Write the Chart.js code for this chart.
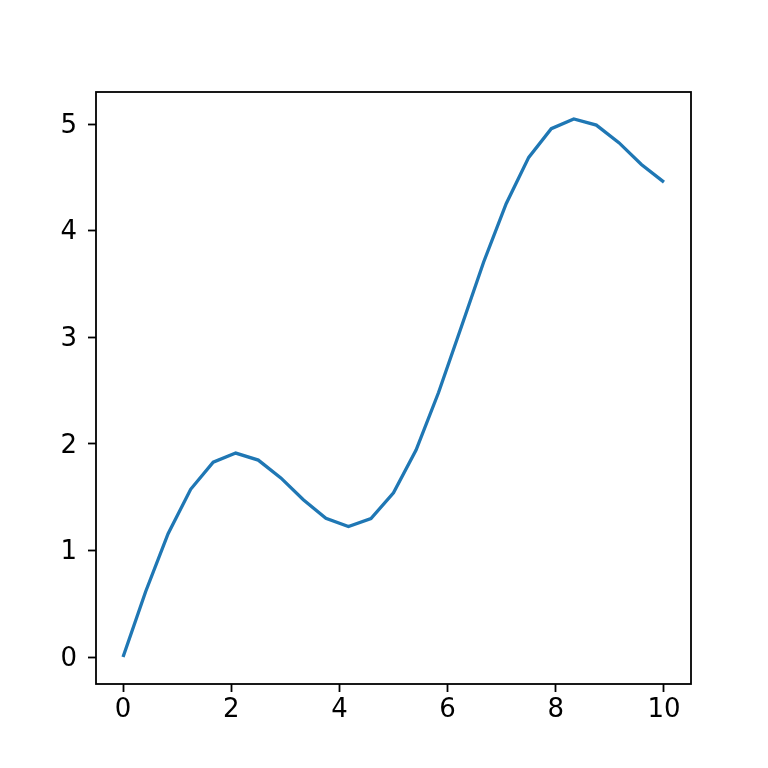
<!DOCTYPE html>
<html>
<head>
<meta charset="utf-8">
<script src="https://cdn.jsdelivr.net/npm/chart.js@4"></script>
<style>
html,body{margin:0;padding:0;background:#fff;}
#wrap{width:768px;height:768px;}
</style>
</head>
<body>
<div id="wrap"><canvas id="c" width="768" height="768"></canvas></div>
<script>
const xValues = [0, 0.417, 0.833, 1.25, 1.667, 2.083, 2.5, 2.917, 3.333, 3.75, 4.167, 4.583, 5,
  5.417, 5.833, 6.25, 6.667, 7.083, 7.5, 7.917, 8.333, 8.75, 9.167, 9.583, 10];
const yValues = [0, 0.613, 1.157, 1.574, 1.828, 1.914, 1.848, 1.681, 1.477, 1.303, 1.225, 1.300, 1.541,
  1.943, 2.482, 3.092, 3.707, 4.254, 4.688, 4.957, 5.049, 4.991, 4.826, 4.622, 4.456];
const xTicks = [0, 2, 4, 6, 8, 10];
const yTicks = [0, 1, 2, 3, 4, 5];

const points = xValues.map((x, i) => ({x: x, y: yValues[i]}));

const frame = {
  id: 'frame',
  afterDraw(chart) {
    const a = chart.chartArea, ctx = chart.ctx;
    ctx.save();
    ctx.strokeStyle = '#000';
    ctx.lineWidth = 1.8;
    ctx.strokeRect(a.left, a.top, a.right - a.left, a.bottom - a.top);
    ctx.restore();
  }
};

const font = {family: '"DejaVu Sans"', size: 26};

new Chart(document.getElementById('c'), {
  type: 'scatter',
  data: {
    datasets: [{
      data: points,
      showLine: true,
      borderColor: '#1f77b4',
      borderWidth: 3.3,
      pointRadius: 0,
      fill: false,
      tension: 0
    }]
  },
  options: {
    responsive: false,
    animation: false,
    devicePixelRatio: 1,
    layout: {padding: {top: 92, right: 77, left: 0, bottom: 0}},
    plugins: {legend: {display: false}, tooltip: {enabled: false}},
    scales: {
      x: {
        type: 'linear',
        min: -0.5, max: 10.5,
        afterBuildTicks(s) { s.ticks = xTicks.map(v => ({value: v})); },
        afterFit(s) { s.height = 84; },
        grid: {display: true, drawOnChartArea: false, drawTicks: true, tickLength: 8, tickColor: '#000', tickWidth: 1.8},
        border: {display: false},
        ticks: {color: '#000', font: font, padding: 3, maxRotation: 0}
      },
      y: {
        type: 'linear',
        min: -0.2525, max: 5.3015,
        afterBuildTicks(s) { s.ticks = yTicks.map(v => ({value: v})); },
        afterFit(s) { s.width = 96; },
        grid: {display: true, drawOnChartArea: false, drawTicks: true, tickLength: 8, tickColor: '#000', tickWidth: 1.8},
        border: {display: false},
        ticks: {color: '#000', font: font, padding: 11, labelOffset: 2}
      }
    }
  },
  plugins: [frame]
});
</script>
</body>
</html>
